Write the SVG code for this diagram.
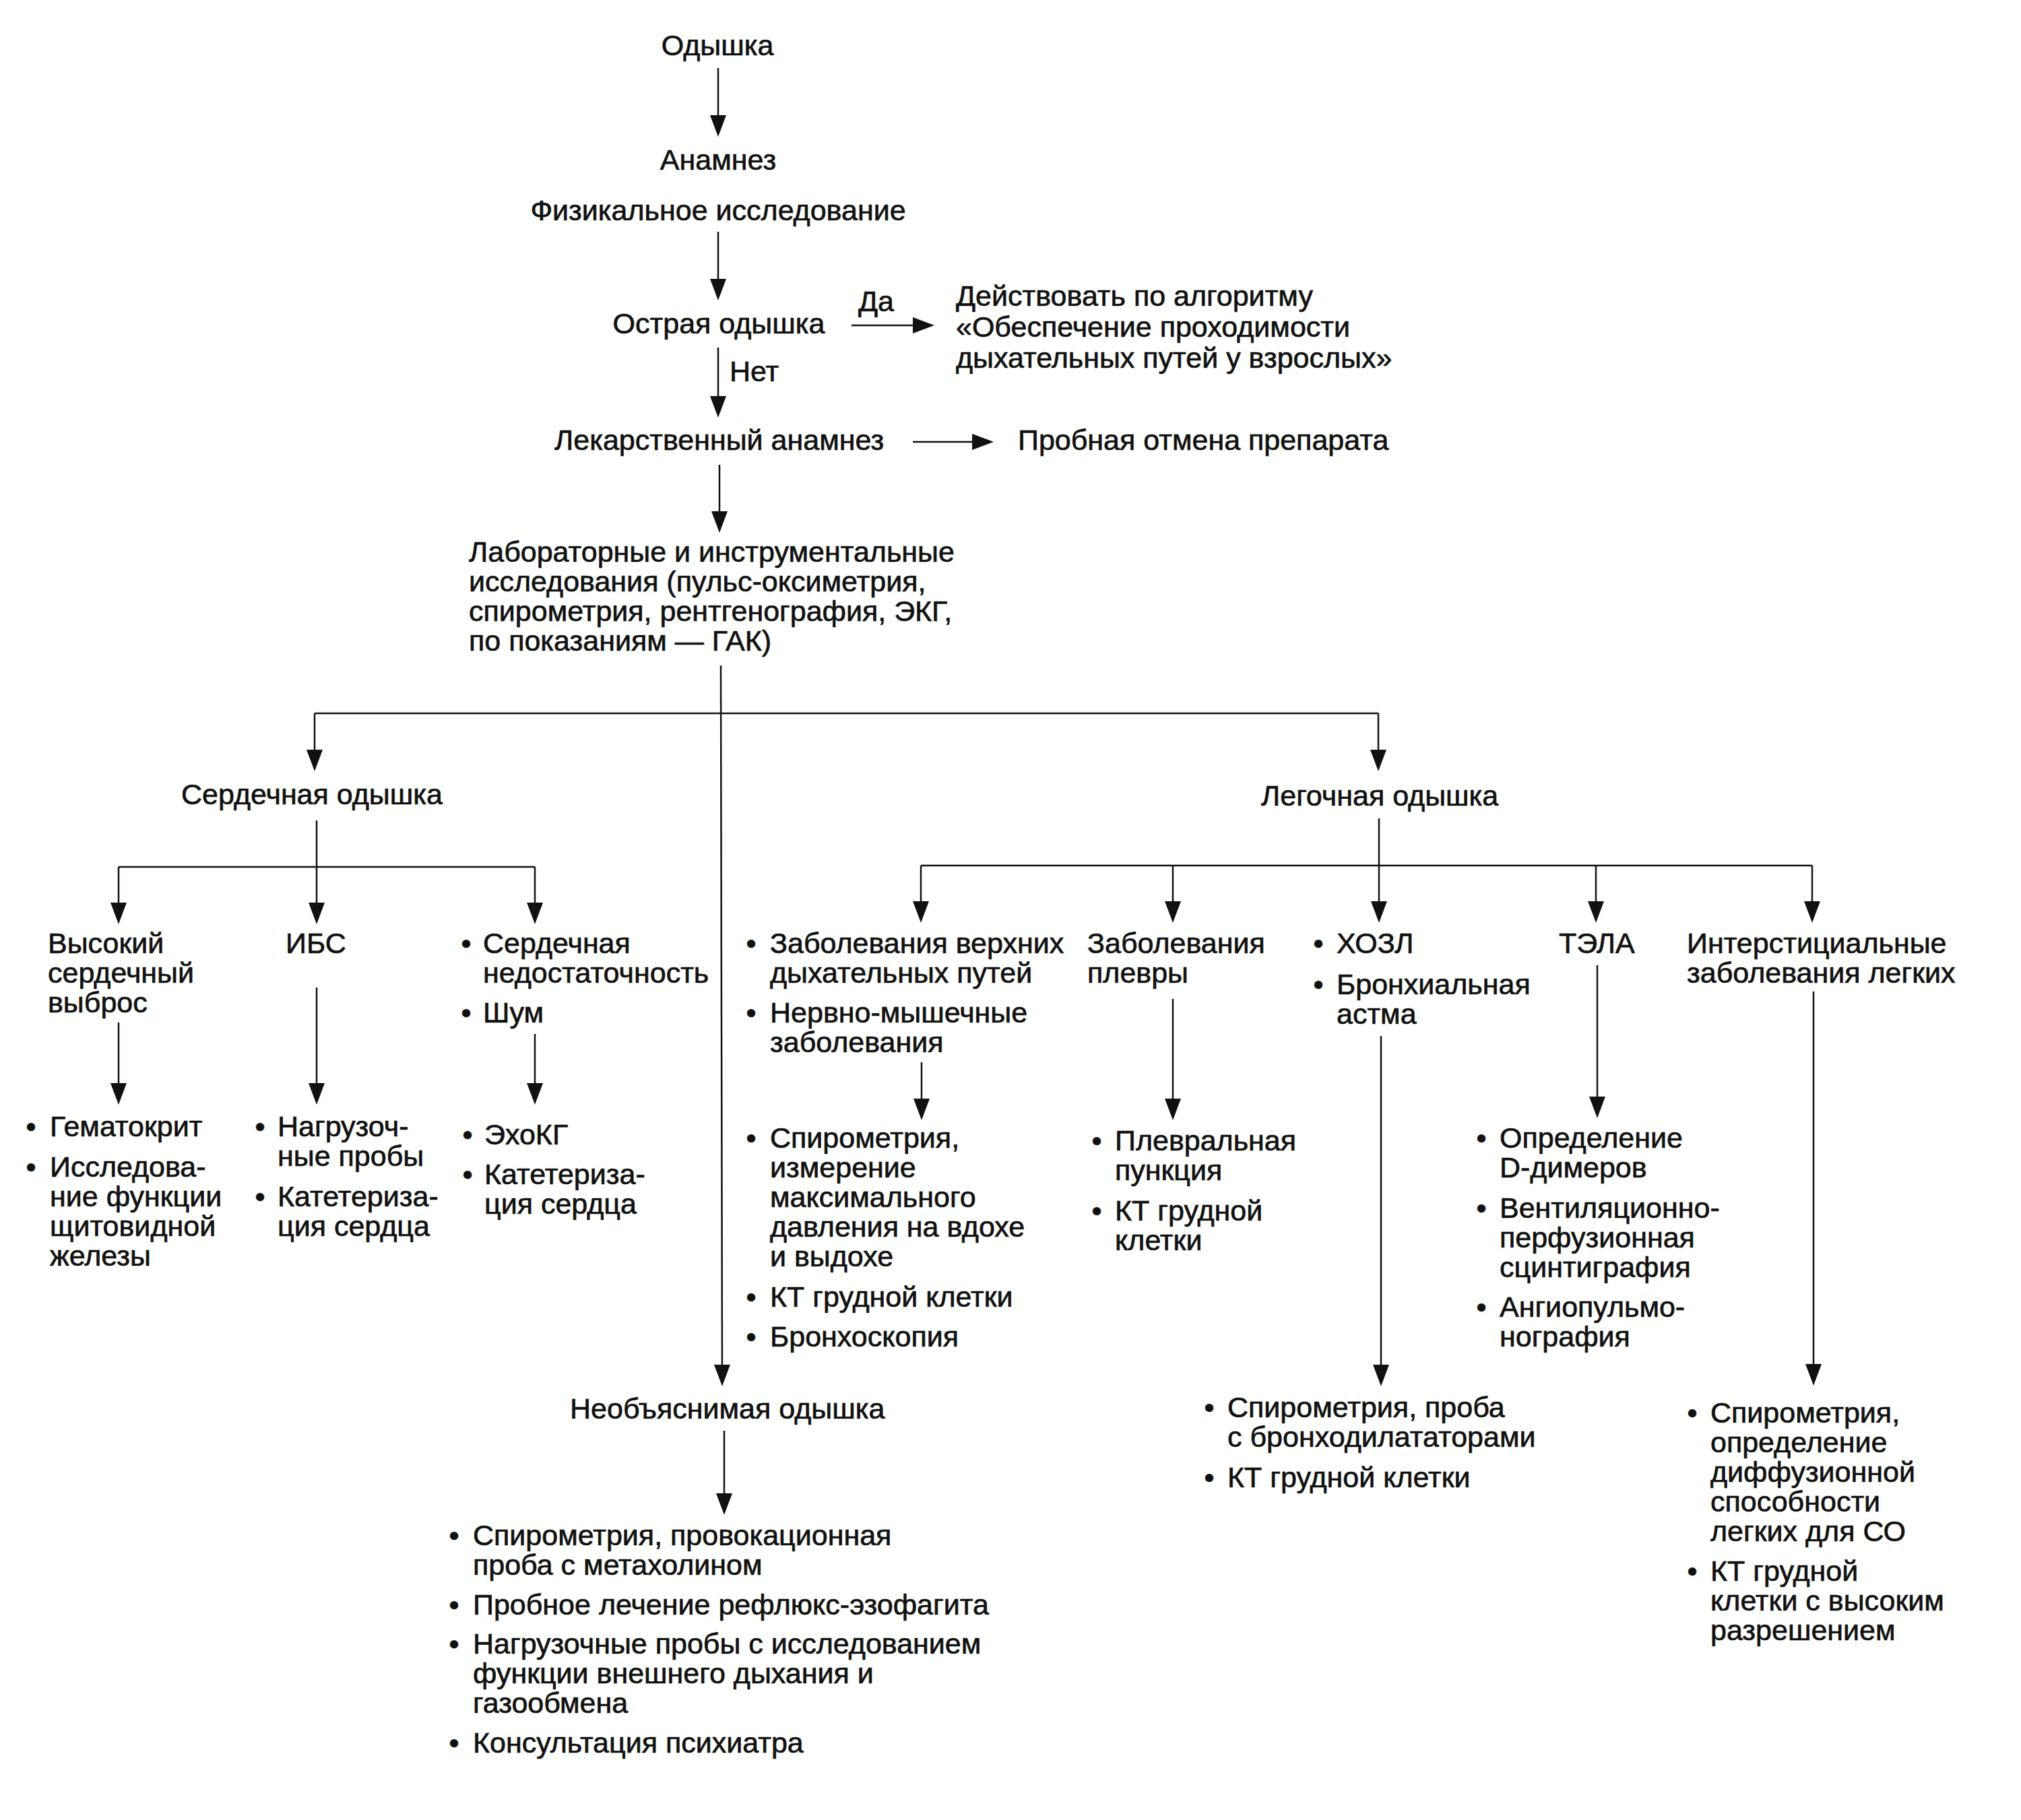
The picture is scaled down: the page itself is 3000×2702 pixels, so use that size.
<svg xmlns="http://www.w3.org/2000/svg" width="3000" height="2702" viewBox="0 0 3000 2702">
<defs>
<style>
.t{font-family:"Liberation Sans",Arial,sans-serif;font-size:43px;fill:#111;stroke:#111;stroke-width:0.7px}
.m{text-anchor:middle}
.c{stroke:#111;stroke-width:2.5;fill:none}
.a{marker-end:url(#arr)}
</style>
<marker id="arr" markerUnits="userSpaceOnUse" markerWidth="32" markerHeight="24" viewBox="0 0 32 24" refX="22" refY="12" orient="auto">
<path d="M0,0 L32,12 L0,24 z" fill="#111"/>
</marker>
</defs>
<rect x="0" y="0" width="3000" height="2702" fill="#fff"/>

<g id="connectors">
<path class="c a" d="M1066,101 V193"/>
<path class="c a" d="M1066,344 V436"/>
<path class="c a" d="M1066,516 V610"/>
<path class="c a" d="M1264,483 H1377"/>
<path class="c a" d="M1355,656 H1465"/>
<path class="c a" d="M1068,690 V781"/>
<path class="c a" d="M1070,988 L1072,2048"/>
<path class="c" d="M467,1059 H2046"/>
<path class="c a" d="M467,1059 V1135"/>
<path class="c a" d="M2046,1059 V1135"/>
<path class="c" d="M470,1218 V1287"/>
<path class="c" d="M176,1287 H794"/>
<path class="c a" d="M176,1287 V1362"/>
<path class="c a" d="M470,1287 V1362"/>
<path class="c a" d="M794,1287 V1362"/>
<path class="c a" d="M2047,1215 V1360"/>
<path class="c" d="M1367,1285 H2690"/>
<path class="c a" d="M1367,1285 V1360"/>
<path class="c a" d="M1741,1285 V1360"/>
<path class="c a" d="M2369,1285 V1360"/>
<path class="c a" d="M2690,1285 V1360"/>
<path class="c a" d="M176,1518 V1630"/>
<path class="c a" d="M470,1466 V1630"/>
<path class="c a" d="M794,1535 V1630"/>
<path class="c a" d="M1368,1577 V1653"/>
<path class="c a" d="M1741,1483 V1653"/>
<path class="c a" d="M2050,1538 V2048"/>
<path class="c a" d="M2371,1433 V1650"/>
<path class="c a" d="M2692,1472 V2047"/>
<path class="c a" d="M1075,2124 V2239"/>
<text class="t" x="1274" y="462">Да</text>
<text class="t" x="1083" y="566">Нет</text>
</g>

<g id="n-dyspnea"><text class="t m" x="1065" y="82">Одышка</text></g>
<g id="n-anamnesis"><text class="t m" x="1066" y="252">Анамнез</text></g>
<g id="n-physical"><text class="t m" x="1066" y="327">Физикальное исследование</text></g>
<g id="n-acute"><text class="t m" x="1067" y="495">Острая одышка</text></g>
<g id="n-algorithm"><text class="t" x="1419" y="454">Действовать по алгоритму<tspan x="1419" y="500">«Обеспечение проходимости</tspan><tspan x="1419" y="546">дыхательных путей у взрослых»</tspan></text></g>
<g id="n-drug"><text class="t" x="823" y="668">Лекарственный анамнез</text></g>
<g id="n-withdrawal"><text class="t" x="1511" y="668">Пробная отмена препарата</text></g>
<g id="n-lab"><text class="t" x="696" y="834">Лабораторные и инструментальные<tspan x="696" y="878">исследования (пульс-оксиметрия,</tspan><tspan x="696" y="922">спирометрия, рентгенография, ЭКГ,</tspan><tspan x="696" y="966">по показаниям — ГАК)</tspan></text></g>

<g id="n-cardiac"><text class="t" x="269" y="1194">Сердечная одышка</text></g>
<g id="n-pulmonary"><text class="t" x="1872" y="1196">Легочная одышка</text></g>

<g id="n-high-output"><text class="t" x="71" y="1415">Высокий<tspan x="71" y="1459">сердечный</tspan><tspan x="71" y="1503">выброс</tspan></text></g>
<g id="n-hct"><text class="t m" x="46" y="1687">•</text><text class="t" x="74" y="1687">Гематокрит</text><text class="t m" x="46" y="1747">•</text><text class="t" x="74" y="1747">Исследова-<tspan x="74" y="1791">ние функции</tspan><tspan x="74" y="1835">щитовидной</tspan><tspan x="74" y="1879">железы</tspan></text></g>

<g id="n-ihd"><text class="t" x="424" y="1415">ИБС</text></g>
<g id="n-stress"><text class="t m" x="386" y="1687">•</text><text class="t" x="412" y="1687">Нагрузоч-<tspan x="412" y="1731">ные пробы</tspan></text><text class="t m" x="386" y="1791">•</text><text class="t" x="412" y="1791">Катетериза-<tspan x="412" y="1835">ция сердца</tspan></text></g>

<g id="n-hf"><text class="t m" x="692" y="1415">•</text><text class="t" x="717" y="1415">Сердечная<tspan x="717" y="1459">недостаточность</tspan></text><text class="t m" x="692" y="1518">•</text><text class="t" x="717" y="1518">Шум</text></g>
<g id="n-echo"><text class="t m" x="694" y="1699">•</text><text class="t" x="719" y="1699">ЭхоКГ</text><text class="t m" x="694" y="1758">•</text><text class="t" x="719" y="1758">Катетериза-<tspan x="719" y="1802">ция сердца</tspan></text></g>

<g id="n-upper"><text class="t m" x="1115" y="1415">•</text><text class="t" x="1143" y="1415">Заболевания верхних<tspan x="1143" y="1459">дыхательных путей</tspan></text><text class="t m" x="1115" y="1518">•</text><text class="t" x="1143" y="1518">Нервно-мышечные<tspan x="1143" y="1562">заболевания</tspan></text></g>
<g id="n-upper-tests"><text class="t m" x="1115" y="1704">•</text><text class="t" x="1143" y="1704">Спирометрия,<tspan x="1143" y="1748">измерение</tspan><tspan x="1143" y="1792">максимального</tspan><tspan x="1143" y="1836">давления на вдохе</tspan><tspan x="1143" y="1880">и выдохе</tspan></text><text class="t m" x="1115" y="1940">•</text><text class="t" x="1143" y="1940">КТ грудной клетки</text><text class="t m" x="1115" y="1999">•</text><text class="t" x="1143" y="1999">Бронхоскопия</text></g>

<g id="n-pleura"><text class="t" x="1614" y="1415">Заболевания<tspan x="1614" y="1459">плевры</tspan></text></g>
<g id="n-pleura-tests"><text class="t m" x="1628" y="1708">•</text><text class="t" x="1655" y="1708">Плевральная<tspan x="1655" y="1752">пункция</tspan></text><text class="t m" x="1628" y="1812">•</text><text class="t" x="1655" y="1812">КТ грудной<tspan x="1655" y="1856">клетки</tspan></text></g>

<g id="n-copd"><text class="t m" x="1957" y="1415">•</text><text class="t" x="1984" y="1415">ХОЗЛ</text><text class="t m" x="1957" y="1476">•</text><text class="t" x="1984" y="1476">Бронхиальная<tspan x="1984" y="1520">астма</tspan></text></g>
<g id="n-copd-tests"><text class="t m" x="1795" y="2104">•</text><text class="t" x="1822" y="2104">Спирометрия, проба<tspan x="1822" y="2148">с бронходилататорами</tspan></text><text class="t m" x="1795" y="2208">•</text><text class="t" x="1822" y="2208">КТ грудной клетки</text></g>

<g id="n-pe"><text class="t" x="2314" y="1415">ТЭЛА</text></g>
<g id="n-pe-tests"><text class="t m" x="2199" y="1704">•</text><text class="t" x="2226" y="1704">Определение<tspan x="2226" y="1748">D-димеров</tspan></text><text class="t m" x="2199" y="1808">•</text><text class="t" x="2226" y="1808">Вентиляционно-<tspan x="2226" y="1852">перфузионная</tspan><tspan x="2226" y="1896">сцинтиграфия</tspan></text><text class="t m" x="2199" y="1955">•</text><text class="t" x="2226" y="1955">Ангиопульмо-<tspan x="2226" y="1999">нография</tspan></text></g>

<g id="n-ild"><text class="t" x="2504" y="1415">Интерстициальные<tspan x="2504" y="1459">заболевания легких</tspan></text></g>
<g id="n-ild-tests"><text class="t m" x="2512" y="2112">•</text><text class="t" x="2539" y="2112">Спирометрия,<tspan x="2539" y="2156">определение</tspan><tspan x="2539" y="2200">диффузионной</tspan><tspan x="2539" y="2244">способности</tspan><tspan x="2539" y="2288">легких для СО</tspan></text><text class="t m" x="2512" y="2347">•</text><text class="t" x="2539" y="2347">КТ грудной<tspan x="2539" y="2391">клетки с высоким</tspan><tspan x="2539" y="2435">разрешением</tspan></text></g>

<g id="n-unexplained"><text class="t" x="846" y="2106">Необъяснимая одышка</text></g>
<g id="n-unexplained-tests"><text class="t m" x="674" y="2294">•</text><text class="t" x="702" y="2294">Спирометрия, провокационная<tspan x="702" y="2338">проба с метахолином</tspan></text><text class="t m" x="674" y="2397">•</text><text class="t" x="702" y="2397">Пробное лечение рефлюкс-эзофагита</text><text class="t m" x="674" y="2455">•</text><text class="t" x="702" y="2455">Нагрузочные пробы с исследованием<tspan x="702" y="2499">функции внешнего дыхания и</tspan><tspan x="702" y="2543">газообмена</tspan></text><text class="t m" x="674" y="2602">•</text><text class="t" x="702" y="2602">Консультация психиатра</text></g>
</svg>
